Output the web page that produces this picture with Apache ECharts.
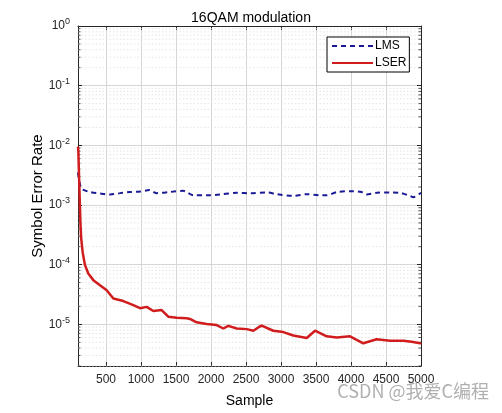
<!DOCTYPE html>
<html>
<head>
<meta charset="utf-8">
<script src="https://cdn.jsdelivr.net/npm/echarts@6/dist/echarts.min.js"></script>
<style>html,body{margin:0;padding:0;background:#fff}#c{width:502px;height:413px}</style>
</head>
<body>
<div id="c"></div>
<script>
// ---- data ----
const titleText = '16QAM modulation';
const xName = 'Sample';
const yName = 'Symbol Error Rate';
const xTicks = [500, 1000, 1500, 2000, 2500, 3000, 3500, 4000, 4500, 5000];
const xMin = 100, xMax = 5000;
const yMin = 2e-6, yMax = 1;

const lmsX = [100, 150, 270, 410, 560, 700, 840, 990, 1120, 1220, 1410, 1600, 1750, 1940, 2130, 2370, 2560, 2800, 2940, 3180, 3370, 3560, 3650, 3800, 4030, 4150, 4220, 4370, 4560, 4700, 4840, 4890, 5000];
const lmsY = [3.5e-3, 1.9e-3, 1.65e-3, 1.56e-3, 1.5e-3, 1.58e-3, 1.65e-3, 1.68e-3, 1.78e-3, 1.58e-3, 1.65e-3, 1.73e-3, 1.45e-3, 1.45e-3, 1.5e-3, 1.6e-3, 1.57e-3, 1.62e-3, 1.52e-3, 1.42e-3, 1.52e-3, 1.45e-3, 1.45e-3, 1.65e-3, 1.7e-3, 1.65e-3, 1.5e-3, 1.6e-3, 1.62e-3, 1.6e-3, 1.42e-3, 1.35e-3, 1.6e-3];

const lserX = [100, 105, 115, 125, 135, 145, 167, 200, 247, 319, 414, 510, 605, 748, 890, 986, 1081, 1176, 1295, 1390, 1510, 1652, 1700, 1795, 1938, 2081, 2176, 2248, 2367, 2510, 2605, 2690, 2724, 2890, 3033, 3176, 3367, 3486, 3652, 3795, 3986, 4176, 4367, 4557, 4748, 4867, 4986, 5000];
const lserY = [9.5e-3, 8e-3, 3e-3, 1.2e-3, 5e-4, 2.8e-4, 1.6e-4, 9.8e-5, 7.1e-5, 5.5e-5, 4.53e-5, 3.73e-5, 2.71e-5, 2.45e-5, 2.1e-5, 1.86e-5, 1.96e-5, 1.67e-5, 1.73e-5, 1.34e-5, 1.29e-5, 1.26e-5, 1.23e-5, 1.08e-5, 1.01e-5, 9.7e-6, 8.5e-6, 9.4e-6, 8.5e-6, 8.3e-6, 7.8e-6, 9.1e-6, 9.5e-6, 7.8e-6, 7.4e-6, 6.5e-6, 5.9e-6, 7.8e-6, 6.3e-6, 6.0e-6, 6.3e-6, 4.8e-6, 5.6e-6, 5.3e-6, 5.3e-6, 5.1e-6, 4.8e-6, 4.9e-6];

const watermark = 'CSDN @我爱C编程';

// minor log grid positions (2..9 x 10^k)
const minorY = [];
for (let k = -6; k <= -1; k++) {
  for (let m = 2; m <= 9; m++) {
    const v = m * Math.pow(10, k);
    if (v >= yMin && v < yMax) minorY.push(v);
  }
}

const axisColor = '#262626';
const font = 'Liberation Sans, Arial, sans-serif';

function logLabel(v) {
  const l = Math.log10(v);
  const e = Math.round(l);
  if (Math.abs(l - e) > 1e-6) return '';
  return '{b|10}{s|' + e + '}';
}

const chart = echarts.init(document.getElementById('c'), null, {renderer: 'canvas'});
chart.setOption({
  animation: false,
  backgroundColor: '#fff',
  textStyle: {fontFamily: font},
  title: {
    text: titleText, left: 'center', top: 6,
    textStyle: {fontSize: 14, fontWeight: 'normal', color: '#000', fontFamily: font}
  },
  grid: {left: 78, right: 81, top: 26, bottom: 44, containLabel: false},
  legend: {
    data: ['LMS', 'LSER'], orient: 'vertical', left: 327, top: 37,
    itemWidth: 41, itemHeight: 12, itemGap: 5,
    padding: [3, 3, 3, 4],
    backgroundColor: '#fff', borderColor: '#000', borderWidth: 1, borderRadius: 0,
    itemStyle: {opacity: 0},
    textStyle: {fontSize: 12, color: '#000', fontFamily: font, padding: [0, 0, 0, -3]}
  },
  xAxis: [{
    type: 'value', min: xMin, max: xMax, name: xName, nameLocation: 'middle', nameGap: 28,
    nameTextStyle: {fontSize: 14, color: '#000', fontFamily: font},
    axisLine: {lineStyle: {color: axisColor, width: 1}},
    axisTick: {inside: true, length: 4, customValues: xTicks, lineStyle: {color: axisColor}},
    axisLabel: {customValues: xTicks, formatter: v => String(v), color: axisColor, fontSize: 12, margin: 8, fontFamily: font},
    splitLine: {show: true, lineStyle: {color: '#d6d6d6', width: 1}}
  }, {
    type: 'value', min: xMin, max: xMax, position: 'top',
    axisLine: {show: true, lineStyle: {color: axisColor, width: 1}},
    axisTick: {inside: true, length: 4, customValues: xTicks, lineStyle: {color: axisColor}},
    axisLabel: {show: false},
    splitLine: {show: false}
  }],
  yAxis: [{
    type: 'log', logBase: 10, min: yMin, max: yMax, name: yName, nameLocation: 'middle', nameGap: 33,
    nameMoveOverlap: false,
    nameTextStyle: {fontSize: 15, color: '#000', fontFamily: font},
    axisLine: {show: true, lineStyle: {color: axisColor, width: 1}},
    axisTick: {inside: true, length: 4, lineStyle: {color: axisColor}},
    axisLabel: {
      formatter: logLabel, margin: 8,
      rich: {
        b: {fontSize: 12, color: axisColor, fontFamily: font},
        s: {fontSize: 9, color: axisColor, fontFamily: font, padding: [0, 0, 8, 0]}
      }
    },
    splitLine: {show: true, lineStyle: {color: '#d6d6d6', width: 1}}
  }, {
    type: 'log', logBase: 10, min: yMin, max: yMax, position: 'right',
    axisLine: {show: true, lineStyle: {color: axisColor, width: 1}},
    axisTick: {inside: true, length: 4, lineStyle: {color: axisColor}},
    axisLabel: {show: false},
    splitLine: {show: false}
  }],
  graphic: [{
    type: 'text', right: 13, top: 382, silent: true, z: 100,
    style: {text: watermark, fontSize: 18, fill: 'rgba(110,110,110,0.55)', fontFamily: 'Noto Sans CJK SC, sans-serif'}
  }],
  series: [{
    type: 'custom', name: 'minor', silent: true, z: 1, xAxisIndex: 0, yAxisIndex: 0,
    data: minorY.map(v => [xMin, v]),
    encode: {x: 0, y: 1},
    renderItem: function (params, api) {
      const p = api.coord([api.value(0), api.value(1)]);
      const cs = params.coordSys;
      return {
        type: 'group',
        children: [
          {type: 'line', shape: {x1: cs.x, y1: p[1], x2: cs.x + cs.width, y2: p[1]},
            style: {stroke: '#dedede', lineWidth: 0.8, lineDash: [1.5, 2]}},
          {type: 'line', shape: {x1: cs.x, y1: p[1], x2: cs.x + 2.5, y2: p[1]},
            style: {stroke: axisColor, lineWidth: 0.8}},
          {type: 'line', shape: {x1: cs.x + cs.width - 2.5, y1: p[1], x2: cs.x + cs.width, y2: p[1]},
            style: {stroke: axisColor, lineWidth: 0.8}}
        ]
      };
    }
  }, {
    name: 'LMS', type: 'line', z: 3, symbol: 'none', smooth: 0.3,
    data: lmsX.map((x, i) => [x, lmsY[i]]),
    lineStyle: {color: '#1a1a96', width: 2, type: [5, 4]},
    itemStyle: {color: '#1a1a96'}
  }, {
    name: 'LSER', type: 'line', z: 4, symbol: 'none', smooth: false,
    data: lserX.map((x, i) => [x, lserY[i]]),
    lineStyle: {color: '#d01c1c', width: 2.5},
    itemStyle: {color: '#d01c1c'}
  }]
});
</script>
</body>
</html>
